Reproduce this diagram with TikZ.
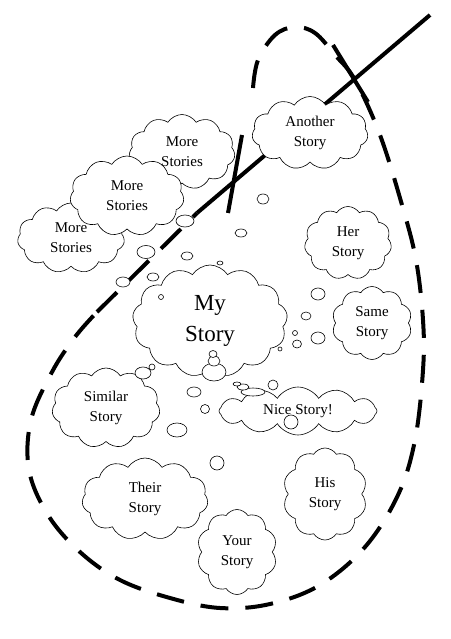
\documentclass[tikz,border=0pt]{standalone}
\usepackage{fontspec}
\setmainfont{Liberation Serif}
\usetikzlibrary{shapes.symbols}

\tikzset{
  story/.style={cloud, cloud ignores aspect, draw=black, fill=white, line width=0.6pt,
    cloud puffs=11, cloud puff arc=115, inner sep=0pt, align=center,
    font=\fontsize{15}{20}\selectfont},
  bubble/.style={draw=black, fill=white, line width=0.6pt},
  crossline/.style={line width=4pt, line cap=butt},
  dashline/.style={line width=4pt, dash pattern=on 28pt off 17pt}
}

\begin{document}
\begin{tikzpicture}[x=1pt, y=-1pt]

            \useasboundingbox[fill=white] (0,0) rectangle (450,639);

            \draw[dashline] plot[smooth, tension=0.6] coordinates {(253,88) (258,60) (275,35) (295,27) (315,33) (335,55) (355,80) (380,135) (402,205) (416,260) (423,320) (423,370) (415,440) (398,495) (365,547) (320,585) (270,604) (220,608) (170,598) (120,580) (80,552) (48,515) (29,470) (31,420) (52,372) (75,337) (97,312)};

            \draw[dashline] (97,312) -- (197,213);

            \draw[crossline] (430,15) -- (197,213);

            \draw[crossline] (333,45) -- (368,102);

            \draw[crossline] (242,135) -- (228,213);

            \node[story, minimum width=116pt, minimum height=73pt] (another) at (310,133) {Another\\Story};

            \node[story, minimum width=106pt, minimum height=75pt] (moreTop) at (182,152) {More\\Stories};
            \node[story, minimum width=107pt, minimum height=70pt] (moreLeft) at (71,238) {More\\Stories};
            \node[story, minimum width=114pt, minimum height=80pt] (moreMid) at (127,196) {More\\Stories};

            \node[story, minimum width=87pt, minimum height=73pt] (her) at (348,243) {Her\\Story};

            \node[story, minimum width=155pt, minimum height=112pt, cloud puffs=13, font=\fontsize{23}{31}\selectfont] (my) at (210,321) {My\\Story};

            \node[story, minimum width=80pt, minimum height=73pt, cloud puffs=10] (same) at (372,323) {Same\\Story};

            \node[story, minimum width=108pt, minimum height=80pt] (similar) at (106,408) {Similar\\Story};

            \node[story, minimum width=158pt, minimum height=48pt, cloud puffs=12, font=\fontsize{15}{18}\selectfont] (nice) at (298,411) {Nice Story!};

            \node[story, minimum width=126pt, minimum height=82pt] (their) at (145,499) {Their\\Story};

            \node[story, minimum width=84pt, minimum height=92pt, cloud puffs=10] (his) at (325,494) {His\\Story};

            \node[story, minimum width=80pt, minimum height=85pt, cloud puffs=10] (your) at (237,552) {Your\\Story};

            \draw[bubble] (263,199) ellipse (6pt and 5pt);
            \draw[bubble] (241,233) ellipse (6pt and 4pt);
            \draw[bubble] (185,221) ellipse (9pt and 6pt);
            \draw[bubble] (187,256) ellipse (6pt and 4pt);
            \draw[bubble] (146,252) ellipse (9pt and 6.5pt);
            \draw[bubble] (153,277) ellipse (6pt and 4pt);
            \draw[bubble] (123,282) ellipse (7pt and 5pt);
            \draw[bubble] (220,263) ellipse (3pt and 2pt);
            \draw[bubble] (161,297) circle (2.5pt);

            \draw[bubble] (318,294) ellipse (7pt and 6pt);
            \draw[bubble] (306,316) ellipse (5pt and 4pt);
            \draw[bubble] (295,333) circle (2.5pt);
            \draw[bubble] (297,344) ellipse (4.5pt and 4pt);
            \draw[bubble] (318,338) ellipse (7pt and 6pt);
            \draw[bubble] (280,349) circle (2pt);

            \draw[bubble] (214,372) ellipse (12pt and 9pt);
            \draw[bubble] (214,361) ellipse (6pt and 5pt);
            \draw[bubble] (213,354) ellipse (4pt and 3.5pt);

            \draw[bubble] (143,373) ellipse (8pt and 6pt);
            \draw[bubble] (152,367) circle (3pt);

            \draw[bubble] (253,392) ellipse (12pt and 4pt);
            \draw[bubble] (243,387) ellipse (6pt and 3pt);
            \draw[bubble] (237,384) ellipse (4pt and 2pt);
            \draw[bubble] (273,385) circle (5pt);

            \draw[bubble] (194,392) ellipse (7pt and 5pt);
            \draw[bubble] (205,409) circle (4.5pt);
            \draw[bubble] (177,430) ellipse (10pt and 7pt);
            \draw[bubble] (291,422) circle (7pt);
            \draw[bubble] (217,463) circle (7pt);

        \end{tikzpicture}
\end{document}
